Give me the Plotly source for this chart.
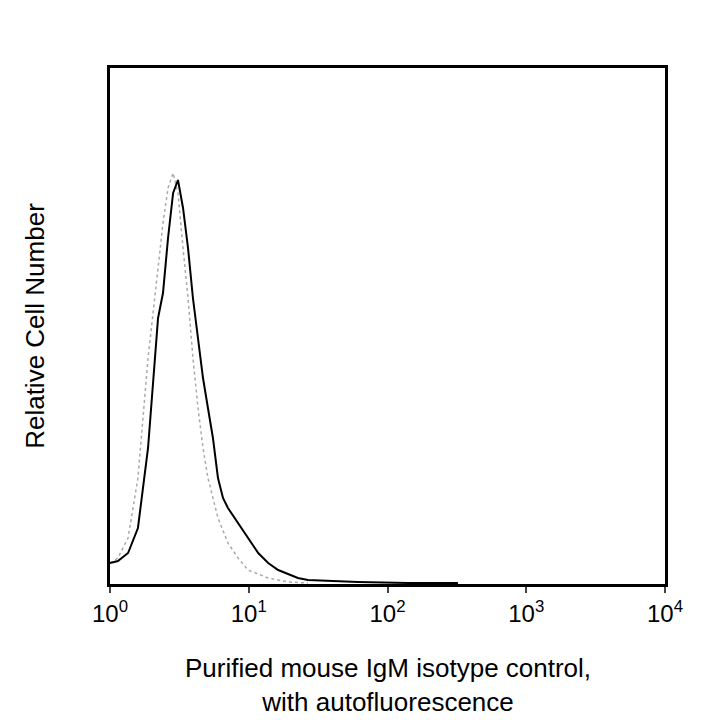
import plotly.graph_objects as go

# fluorescence intensity (log scale) and relative counts
stained_x = [1.0, 1.14, 1.35, 1.59, 1.88, 2.22, 2.41, 2.62, 2.85, 3.09, 3.36, 3.65, 3.96, 4.31,
             4.68, 5.08, 5.52, 6.0, 6.52, 7.08, 8.37, 9.88, 11.7, 13.8, 16.3, 19.2, 22.6, 26.7,
             37.2, 61.3, 141, 322]
stained_y = [21, 23, 31, 56, 136, 266, 291, 346, 391, 404, 376, 336, 286, 246,
             206, 176, 146, 106, 86, 76, 61, 46, 31, 21, 14, 10, 6, 4,
             3, 2, 1, 1]

control_x = [1.0, 1.14, 1.35, 1.59, 1.88, 2.05, 2.22, 2.41, 2.62, 2.85, 3.09, 3.36, 3.65, 3.96,
             4.31, 4.68, 5.08, 6.0, 7.08, 8.37, 9.88, 13.8, 19.2, 26.7]
control_y = [21, 26, 46, 106, 226, 276, 316, 361, 396, 411, 391, 336, 286, 226,
             176, 136, 106, 66, 41, 26, 14, 6, 2, 1]

fig = go.Figure()
fig.add_trace(go.Scatter(x=control_x, y=control_y, mode="lines",
                         line=dict(color="#aaaaaa", width=1.5, dash="dot")))
fig.add_trace(go.Scatter(x=stained_x, y=stained_y, mode="lines",
                         line=dict(color="black", width=2)))

fig.update_layout(
    width=720, height=720, showlegend=False,
    plot_bgcolor="white", paper_bgcolor="white",
    margin=dict(l=102, r=63, t=60, b=144, autoexpand=False),
    font=dict(family="Liberation Sans, Arial", size=24, color="black"),
)
fig.update_xaxes(type="log", range=[0, 4], showgrid=False, zeroline=False, automargin=False,
                 showline=True, linewidth=3, linecolor="black", mirror=True,
                 ticks="outside", ticklen=6, tickwidth=2,
                 tickvals=[1, 10, 100, 1000, 10000],
                 ticktext=["10<sup>0</sup>", "10<sup>1</sup>", "10<sup>2</sup>", "10<sup>3</sup>", "10<sup>4</sup>"])
fig.update_yaxes(range=[0, 516], showgrid=False, zeroline=False, showticklabels=False,
                 automargin=False,
                 showline=True, linewidth=3, linecolor="black", mirror=True,
                 title=dict(text="Relative Cell Number", font=dict(size=26), standoff=55))
fig.add_annotation(text="Purified mouse IgM isotype control,<br>with autofluorescence",
                   xref="paper", yref="paper", x=0.5, y=-0.13, yanchor="top",
                   showarrow=False, font=dict(size=26))

fig.write_html("out.html")
